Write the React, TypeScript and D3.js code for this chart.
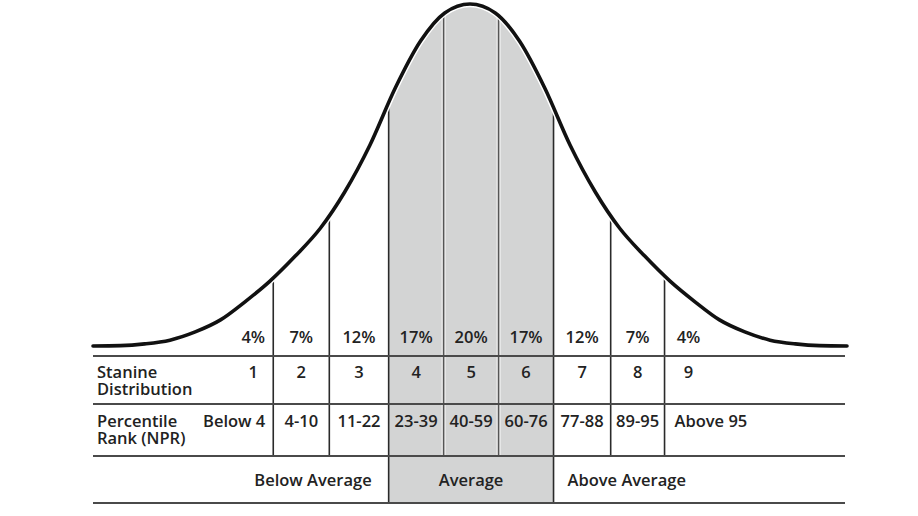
import { useEffect, useRef } from "react";
import * as d3 from "d3";

// Bell curve, read as (z, relative height) pairs
const curveZ = [
  -3.43, -3.18, -2.96, -2.73, -2.5, -2.27, -2.05, -1.82, -1.59, -1.36, -1.14,
  -0.91, -0.68, -0.45, -0.23, 0, 0.23, 0.45, 0.68, 0.91, 1.14, 1.36, 1.59, 1.82,
  2.05, 2.27, 2.5, 2.73, 2.96, 3.18, 3.43,
];
const curveHeight = [
  0.003, 0.004, 0.009, 0.02, 0.044, 0.079, 0.131, 0.192, 0.265, 0.347, 0.452,
  0.589, 0.755, 0.892, 0.974, 1.0, 0.974, 0.892, 0.755, 0.589, 0.452, 0.347,
  0.265, 0.192, 0.131, 0.079, 0.044, 0.02, 0.009, 0.004, 0.003,
];

// Stanine column edges (z)
const stanineBounds = [-1.79, -1.28, -0.74, -0.24, 0.26, 0.76, 1.28, 1.77];
const stanines = ["1", "2", "3", "4", "5", "6", "7", "8", "9"];
const percentages = [4, 7, 12, 17, 20, 17, 12, 7, 4];
const percentileRanks = [
  "Below 4", "4-10", "11-22", "23-39", "40-59", "60-76", "77-88", "89-95", "Above 95",
];
const bands = ["Below Average", "Average", "Above Average"];

const W = 918;
const H = 516;

export default function App() {
  const svgRef = useRef<SVGSVGElement>(null);

  useEffect(() => {
    const svg = d3.select(svgRef.current);
    svg.selectAll("*").remove();

    const left = 93;
    const right = 845;
    const rowLines = [356, 404, 456, 503];
    const tableBottom = rowLines[3];

    const x = d3.scaleLinear().domain([-3.43, 3.43]).range([93, 847]);
    const y = d3.scaleLinear().domain([0, 1]).range([347, 4]);

    const pts: [number, number][] = curveZ.map((z, i) => [z, curveHeight[i]]);

    const line = d3
      .line<[number, number]>()
      .x((d) => x(d[0]))
      .y((d) => y(d[1]))
      .curve(d3.curveMonotoneX);

    const area = d3
      .area<[number, number]>()
      .x((d) => x(d[0]))
      .y0(tableBottom)
      .y1((d) => y(d[1]))
      .curve(d3.curveMonotoneX);

    const defs = svg.append("defs");
    defs
      .append("clipPath")
      .attr("id", "under-curve")
      .append("path")
      .attr("d", area(pts));
    defs
      .append("clipPath")
      .attr("id", "average-cols")
      .append("rect")
      .attr("x", x(stanineBounds[2]))
      .attr("y", 0)
      .attr("width", x(stanineBounds[5]) - x(stanineBounds[2]))
      .attr("height", tableBottom);

    svg.append("rect").attr("width", W).attr("height", H).attr("fill", "#ffffff");

    // shaded "Average" columns
    svg
      .append("path")
      .attr("d", area(pts))
      .attr("fill", "#d3d4d4")
      .attr("clip-path", "url(#average-cols)");

    // column dividers, cut off at the curve
    const dividers = svg.append("g").attr("clip-path", "url(#under-curve)");
    stanineBounds.forEach((b, i) => {
      const inner = i === 3 || i === 4;
      if (inner) {
        dividers
          .append("line")
          .attr("x1", x(b))
          .attr("x2", x(b))
          .attr("y1", 0)
          .attr("y2", rowLines[2])
          .attr("stroke", "#f4f4f4")
          .attr("stroke-width", 4);
      }
      const toBottom = i === 2 || i === 5;
      dividers
        .append("line")
        .attr("x1", x(b))
        .attr("x2", x(b))
        .attr("y1", 0)
        .attr("y2", toBottom ? tableBottom : rowLines[2])
        .attr("stroke", inner ? "#555" : "#2a2a2a")
        .attr("stroke-width", 1.6);
    });

    // curve with a thin white halo
    svg
      .append("path")
      .attr("d", line(pts))
      .attr("fill", "none")
      .attr("stroke", "#ffffff")
      .attr("stroke-width", 6.5);
    svg
      .append("path")
      .attr("d", line(pts))
      .attr("fill", "none")
      .attr("stroke", "#111")
      .attr("stroke-width", 3.6)
      .attr("stroke-linecap", "round");

    // table rules
    svg
      .append("g")
      .selectAll("line")
      .data(rowLines)
      .join("line")
      .attr("x1", left)
      .attr("x2", right)
      .attr("y1", (d) => d)
      .attr("y2", (d) => d)
      .attr("stroke", "#4a4a4a")
      .attr("stroke-width", 2);

    const font = "'Open Sans', 'DejaVu Sans', sans-serif";
    const txt = svg
      .append("g")
      .attr("font-family", font)
      .attr("font-size", 16.5)
      .attr("font-weight", 600)
      .attr("fill", "#222");

    const colCenter = (i: number) => {
      if (i === 0) return x(stanineBounds[0]) - 20;
      if (i === 8) return x(stanineBounds[7]) + 24;
      return (x(stanineBounds[i - 1]) + x(stanineBounds[i])) / 2;
    };

    percentages.forEach((p, i) => {
      txt
        .append("text")
        .attr("x", colCenter(i))
        .attr("y", 343)
        .attr("text-anchor", "middle")
        .text(`${p}%`);
    });

    stanines.forEach((s, i) => {
      txt
        .append("text")
        .attr("x", colCenter(i))
        .attr("y", 378)
        .attr("text-anchor", "middle")
        .text(s);
    });

    percentileRanks.forEach((r, i) => {
      let ax = colCenter(i);
      let anchor = "middle";
      if (i === 0) {
        ax = x(stanineBounds[0]) - 8;
        anchor = "end";
      } else if (i === 8) {
        ax = x(stanineBounds[7]) + 10;
        anchor = "start";
      }
      txt
        .append("text")
        .attr("x", ax)
        .attr("y", 427)
        .attr("text-anchor", anchor)
        .text(r);
    });

    // row headings
    const heads: [string, number][] = [
      ["Stanine", 378],
      ["Distribution", 395],
      ["Percentile", 427],
      ["Rank (NPR)", 444],
    ];
    heads.forEach(([t, yy]) => {
      txt.append("text").attr("x", left + 4).attr("y", yy).text(t);
    });

    // band labels
    const avgL = x(stanineBounds[2]);
    const avgR = x(stanineBounds[5]);
    txt
      .append("text")
      .attr("x", avgL - 17)
      .attr("y", 486)
      .attr("text-anchor", "end")
      .text(bands[0]);
    txt
      .append("text")
      .attr("x", (avgL + avgR) / 2)
      .attr("y", 486)
      .attr("text-anchor", "middle")
      .text(bands[1]);
    txt
      .append("text")
      .attr("x", avgR + 14)
      .attr("y", 486)
      .attr("text-anchor", "start")
      .text(bands[2]);
  }, []);

  return (
    <svg
      ref={svgRef}
      width={W}
      height={H}
      style={{ position: "absolute", left: 0, top: 0, display: "block" }}
    />
  );
}
